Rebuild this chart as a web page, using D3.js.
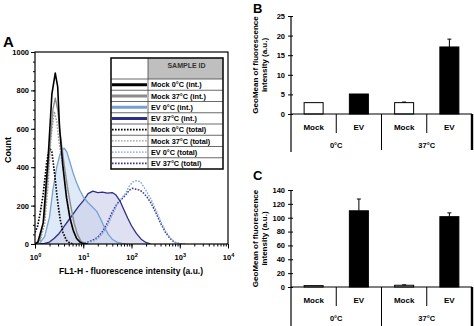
<!DOCTYPE html>
<html>
<head>
<meta charset="utf-8">
<script src="https://cdn.jsdelivr.net/npm/d3@7"></script>
<style>
  body { margin: 0; background: #fff; }
  svg { display: block; font-family: "Liberation Sans", Arial, sans-serif; font-weight: bold; }
</style>
</head>
<body>
<svg id="chart" width="474" height="326"></svg>
<script>
(function () {
    "use strict";

    // histogram series, each point is [log10 FL1-H, count]
    const mock0Int = [[0, 0], [0.06, 10], [0.17, 110], [0.27, 440], [0.35, 780], [0.42, 890], [0.47, 820], [0.51, 600], [0.58, 400], [0.65, 246], [0.72, 140], [0.79, 73], [0.86, 30], [0.93, 10], [1.0, 2], [1.1, 0]];
    const mock37Int = [[0, 0], [0.1, 20], [0.2, 150], [0.3, 480], [0.37, 700], [0.42, 760], [0.47, 700], [0.53, 560], [0.6, 420], [0.67, 300], [0.74, 200], [0.81, 110], [0.88, 50], [0.95, 15], [1.05, 0]];
    const ev0Int = [[0, 0], [0.1, 5], [0.2, 40], [0.3, 140], [0.37, 280], [0.45, 400], [0.52, 470], [0.6, 500], [0.66, 480], [0.72, 430], [0.79, 370], [0.86, 320], [0.93, 280], [1.0, 246], [1.1, 215], [1.2, 190], [1.28, 170], [1.36, 130], [1.44, 85], [1.52, 50], [1.6, 25], [1.7, 10], [1.8, 3], [1.9, 0]];
    const ev37Int = [[0, 0], [0.2, 3], [0.3, 10], [0.4, 30], [0.5, 55], [0.6, 90], [0.7, 125], [0.8, 160], [0.9, 195], [1.0, 225], [1.1, 262], [1.2, 275], [1.3, 268], [1.4, 270], [1.5, 265], [1.6, 268], [1.68, 255], [1.76, 225], [1.84, 180], [1.92, 135], [2.0, 95], [2.1, 55], [2.2, 25], [2.3, 8], [2.4, 0]];
    const mock0Total = [[0, 60], [0.05, 90], [0.1, 150], [0.17, 260], [0.24, 420], [0.3, 500], [0.35, 480], [0.4, 380], [0.46, 240], [0.52, 130], [0.58, 60], [0.65, 20], [0.72, 5], [0.8, 0]];
    const mock37Total = [[0, 0], [0.1, 10], [0.2, 100], [0.27, 300], [0.33, 550], [0.4, 690], [0.45, 640], [0.5, 530], [0.56, 430], [0.62, 330], [0.68, 210], [0.74, 120], [0.8, 60], [0.87, 25], [0.95, 8], [1.05, 0]];
    const ev0Total = [[0.9, 0], [1.0, 3], [1.1, 8], [1.2, 15], [1.3, 28], [1.4, 55], [1.5, 95], [1.6, 150], [1.7, 205], [1.8, 240], [1.88, 265], [1.95, 300], [2.02, 322], [2.1, 330], [2.18, 325], [2.25, 300], [2.32, 270], [2.4, 235], [2.5, 180], [2.6, 120], [2.7, 70], [2.8, 32], [2.9, 10], [3.0, 2], [3.1, 0]];
    const ev37Total = [[0.9, 0], [1.0, 4], [1.1, 10], [1.2, 20], [1.3, 35], [1.4, 65], [1.5, 110], [1.6, 165], [1.7, 210], [1.8, 235], [1.88, 255], [1.95, 280], [2.02, 290], [2.1, 285], [2.18, 280], [2.25, 265], [2.32, 245], [2.4, 215], [2.5, 165], [2.6, 110], [2.7, 62], [2.8, 28], [2.9, 8], [3.0, 1], [3.1, 0]];

    const seriesNames = ["Mock 0°C (int.)", "Mock 37°C (int.)", "EV 0°C (int.)", "EV 37°C (int.)",
        "Mock 0°C (total)", "Mock 37°C (total)", "EV 0°C (total)", "EV 37°C (total)"];
    const seriesData = [mock0Int, mock37Int, ev0Int, ev37Int, mock0Total, mock37Total, ev0Total, ev37Total];

    const xTicksA = [1, 10, 100, 1000, 10000];
    const xTickExp = ["0", "1", "2", "3", "4"];
    const yTicksA = [0, 200, 400, 600, 800, 1000];

    // bar panels
    const barLabels = ["Mock", "EV", "Mock", "EV"];
    const tempLabels = ["0°C", "37°C"];
    const valuesB = [2.9, 5.1, 2.9, 17.1];
    const errorsB = [0, 0, 0.15, 2.0];
    const yTicksB = [0, 5, 10, 15, 20, 25];
    const valuesC = [2, 110, 2.5, 101.5];
    const errorsC = [0, 17, 0.6, 5.5];
    const yTicksC = [0, 20, 40, 60, 80, 100, 120, 140];

    // styles, same order as seriesNames
    const seriesStyles = [
        { color: "#000000", width: 1.6, dash: null, legendWidth: 3 },
        { color: "#8c8c8c", width: 1.4, dash: null, legendWidth: 3 },
        { color: "#76a0d4", width: 1.3, dash: null, legendWidth: 3 },
        { color: "#2c2f86", width: 1.3, dash: null, legendWidth: 3 },
        { color: "#000000", width: 1.7, dash: "1.6,1.4", legendWidth: 1.8 },
        { color: "#9a9a9a", width: 1.4, dash: "1.6,1.4", legendWidth: 1.4 },
        { color: "#7ea4d6", width: 1.4, dash: "1.6,1.4", legendWidth: 1.4 },
        { color: "#34378f", width: 1.5, dash: "1.6,1.4", legendWidth: 1.6 },
    ];

    const svg = d3.select("#chart");

    /**
     * Panel A: flow cytometry histogram
     */
    const xA = d3.scaleLog().domain([1, 1e4]).range([35, 228]);
    const yA = d3.scaleLinear().domain([0, 1000]).range([244, 52]);

    svg.append("defs").append("clipPath").attr("id", "clipA")
        .append("rect").attr("x", 35).attr("y", 52).attr("width", 193).attr("height", 192);

    const line = d3.line().x((d) => xA(Math.pow(10, d[0]))).y((d) => yA(d[1]));
    const area = d3.area().x((d) => xA(Math.pow(10, d[0]))).y0(yA(0)).y1((d) => yA(d[1]));

    const plotA = svg.append("g").attr("clip-path", "url(#clipA)");
    plotA.append("path").attr("d", area(ev0Int)).attr("fill", "#d3e3f5").attr("fill-opacity", 0.75);
    plotA.append("path").attr("d", area(ev37Int)).attr("fill", "#c9cce8").attr("fill-opacity", 0.6);

    // draw order, back to front
    [7, 6, 3, 2, 5, 4, 1, 0].forEach((i) => {
        const s = seriesStyles[i];
        plotA.append("path")
            .attr("d", line(seriesData[i]))
            .attr("fill", "none")
            .attr("stroke", s.color)
            .attr("stroke-width", s.width)
            .attr("stroke-dasharray", s.dash)
            .attr("stroke-linejoin", "round");
    });

    // y axis with minor ticks
    const gyA = svg.append("g").attr("transform", "translate(35,0)")
        .call(d3.axisLeft(yA).tickValues(d3.range(0, 1001, 50)).tickSize(2).tickFormat(""));
    gyA.select(".domain").remove();
    const gyA2 = svg.append("g").attr("transform", "translate(35,0)")
        .call(d3.axisLeft(yA).tickValues(yTicksA).tickSize(4).tickPadding(2).tickFormat(d3.format("d")));
    gyA2.select(".domain").remove();
    gyA2.selectAll("text").attr("font-size", 7.5).attr("font-family", "Liberation Sans").attr("font-weight", "bold");

    // x axis, log minor ticks
    const gxA = svg.append("g").attr("transform", "translate(0,244)")
        .call(d3.axisBottom(xA).tickValues(xA.ticks()).tickSize(2.5).tickFormat(""));
    gxA.select(".domain").remove();
    const gxA2 = svg.append("g").attr("transform", "translate(0,244)")
        .call(d3.axisBottom(xA).tickValues(xTicksA).tickSize(4.5).tickFormat(""));
    gxA2.select(".domain").remove();
    gxA2.selectAll(".tick").append("text")
        .attr("y", 16)
        .attr("fill", "#000")
        .attr("text-anchor", "middle")
        .attr("font-size", 7.5)
        .each(function (d, i) {
            const t = d3.select(this);
            t.append("tspan").text("10");
            t.append("tspan").attr("dy", -3.5).attr("font-size", 5.5).text(xTickExp[i]);
        });

    svg.append("rect").attr("x", 35).attr("y", 52).attr("width", 193).attr("height", 192)
        .attr("fill", "none").attr("stroke", "#000").attr("stroke-width", 1.2);

    svg.append("text").attr("x", 131).attr("y", 274).attr("text-anchor", "middle")
        .attr("font-size", 8.5).text("FL1-H - fluorescence intensity (a.u.)");
    svg.append("text").attr("transform", "translate(11,150) rotate(-90)").attr("text-anchor", "middle")
        .attr("font-size", 9).text("Count");
    svg.append("text").attr("x", 3).attr("y", 47).attr("font-size", 15).text("A");

    // legend table
    const lgX = 111, lgMid = 148, lgR = 223, lgTop = 58, lgHead = 79, rowH = 11.25;
    const legend = svg.append("g");
    legend.append("rect").attr("x", lgX).attr("y", lgTop).attr("width", lgR - lgX).attr("height", lgHead - lgTop + rowH * 8)
        .attr("fill", "#fff");
    legend.append("rect").attr("x", lgMid).attr("y", lgTop).attr("width", lgR - lgMid).attr("height", lgHead - lgTop)
        .attr("fill", "#bfbfbf");
    legend.append("text").attr("x", (lgMid + lgR) / 2 + 1).attr("y", 68).attr("text-anchor", "middle")
        .attr("font-size", 7).attr("fill", "#333").text("SAMPLE ID");
    const rows = legend.selectAll(".row").data(seriesNames).join("g").attr("class", "row")
        .attr("transform", (d, i) => `translate(0,${lgHead + rowH * i})`);
    rows.append("line").attr("x1", lgX).attr("x2", lgR).attr("y1", 0).attr("y2", 0)
        .attr("stroke", "#444").attr("stroke-width", 0.8);
    rows.append("line").attr("x1", lgX + 1).attr("x2", lgMid - 1).attr("y1", rowH / 2).attr("y2", rowH / 2)
        .attr("stroke", (d, i) => seriesStyles[i].color)
        .attr("stroke-width", (d, i) => seriesStyles[i].legendWidth)
        .attr("stroke-dasharray", (d, i) => seriesStyles[i].dash);
    rows.append("text").attr("x", lgMid + 3).attr("y", rowH / 2 + 2.7).attr("font-size", 7.3).text((d) => d);
    legend.append("line").attr("x1", lgMid).attr("x2", lgMid).attr("y1", lgTop).attr("y2", lgHead + rowH * 8)
        .attr("stroke", "#444").attr("stroke-width", 0.8);
    legend.append("rect").attr("x", lgX).attr("y", lgTop).attr("width", lgR - lgX).attr("height", lgHead - lgTop + rowH * 8)
        .attr("fill", "none").attr("stroke", "#111").attr("stroke-width", 1.6);

    /**
     * Panels B and C: GeoMean bar charts
     */
    const xBar = d3.scaleBand().domain(d3.range(barLabels.length)).range([291, 472]).paddingInner(0.58).paddingOuter(0.29);

    let drawBarPanel = (letter, letterY, values, errors, ticks, yMax, yTop, yBase, axisBottom) => {
        const y = d3.scaleLinear().domain([0, yMax]).range([yBase, yTop]);
        const g = svg.append("g");
        const step = xBar.step();
        const x0 = xBar.range()[0];

        // bars
        g.selectAll(".bar").data(values).join("rect").attr("class", "bar")
            .attr("x", (d, i) => xBar(i))
            .attr("y", (d) => y(d))
            .attr("width", xBar.bandwidth())
            .attr("height", (d) => yBase - y(d))
            .attr("fill", (d, i) => (i % 2 === 0 ? "#fff" : "#000"))
            .attr("stroke", "#000").attr("stroke-width", 1);

        // error bars
        values.forEach((v, i) => {
            if (!errors[i]) return;
            const cx = xBar(i) + xBar.bandwidth() / 2;
            g.append("line").attr("x1", cx).attr("x2", cx).attr("y1", y(v)).attr("y2", y(v + errors[i]))
                .attr("stroke", "#000").attr("stroke-width", 1);
            g.append("line").attr("x1", cx - 2).attr("x2", cx + 2).attr("y1", y(v + errors[i])).attr("y2", y(v + errors[i]))
                .attr("stroke", "#000").attr("stroke-width", 1);
        });

        // y axis
        const ga = g.append("g").attr("transform", `translate(${x0},0)`)
            .call(d3.axisLeft(y).tickValues(ticks).tickSize(3).tickPadding(3));
        ga.select(".domain").remove();
        ga.selectAll(".tick line").attr("x1", 2);
        ga.selectAll("text").attr("font-size", 7.5).attr("font-family", "Liberation Sans").attr("font-weight", "bold");
        g.append("line").attr("x1", x0).attr("x2", x0).attr("y1", yTop).attr("y2", axisBottom)
            .attr("stroke", "#000").attr("stroke-width", 1.2);

        // baseline and dividers
        g.append("line").attr("x1", x0).attr("x2", xBar.range()[1]).attr("y1", yBase).attr("y2", yBase)
            .attr("stroke", "#000").attr("stroke-width", 1.2);
        [1, 3].forEach((k) => {
            g.append("line").attr("x1", x0 + step * k).attr("x2", x0 + step * k).attr("y1", yBase).attr("y2", yBase + 19)
                .attr("stroke", "#000").attr("stroke-width", 1);
        });
        g.append("line").attr("x1", x0 + step * 2).attr("x2", x0 + step * 2).attr("y1", yBase).attr("y2", axisBottom - 2)
            .attr("stroke", "#000").attr("stroke-width", 1);
        g.append("line").attr("x1", x0 + step * 4).attr("x2", x0 + step * 4).attr("y1", yBase).attr("y2", axisBottom - 2)
            .attr("stroke", "#000").attr("stroke-width", 2.4);

        // labels
        g.selectAll(".cat").data(barLabels).join("text").attr("class", "cat")
            .attr("x", (d, i) => xBar(i) + xBar.bandwidth() / 2)
            .attr("y", yBase + 16)
            .attr("text-anchor", "middle").attr("font-size", 8).text((d) => d);
        g.selectAll(".temp").data(tempLabels).join("text").attr("class", "temp")
            .attr("x", (d, i) => x0 + step * (2 * i + 1))
            .attr("y", yBase + 34)
            .attr("text-anchor", "middle").attr("font-size", 7.5).text((d) => d);

        // axis title
        const mid = (yTop + yBase) / 2;
        g.append("text").attr("transform", `translate(258,${mid}) rotate(-90)`).attr("text-anchor", "middle")
            .attr("font-size", 8).text("GeoMean of fluorescence");
        g.append("text").attr("transform", `translate(267,${mid}) rotate(-90)`).attr("text-anchor", "middle")
            .attr("font-size", 8).text("intensity (a.u.)");

        svg.append("text").attr("x", 253).attr("y", letterY).attr("font-size", 13).text(letter);
    };

    drawBarPanel("B", 13, valuesB, errorsB, yTicksB, 25, 16, 114, 152);
    drawBarPanel("C", 180, valuesC, errorsC, yTicksC, 140, 190, 287, 328);
})();
</script>
</body>
</html>
